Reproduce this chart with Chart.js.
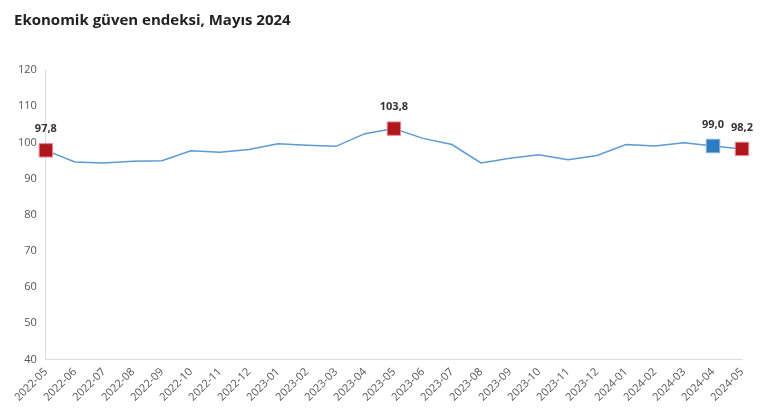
<!DOCTYPE html>
<html>
<head>
<meta charset="utf-8">
<script src="https://cdn.jsdelivr.net/npm/chart.js@4"></script>
<style>
  html, body { margin: 0; padding: 0; background: #fff; }
  #wrap { width: 770px; height: 418px; position: relative; }
  #baslik {
    position: absolute; left: 14px; top: 9px; margin: 0;
    font: bold 15px 'Open Sans', sans-serif; color: #222;
  }
</style>
</head>
<body>
<div id="wrap">
  <div id="baslik">Ekonomik güven endeksi, Mayıs 2024</div>
  <canvas id="guvenChart"></canvas>
</div>
<script>
// ==== veri ====
const aylar = [
  "2022-05", "2022-06", "2022-07", "2022-08", "2022-09", "2022-10", "2022-11", "2022-12",
  "2023-01", "2023-02", "2023-03", "2023-04", "2023-05", "2023-06", "2023-07", "2023-08",
  "2023-09", "2023-10", "2023-11", "2023-12", "2024-01", "2024-02", "2024-03", "2024-04", "2024-05"
];
const endeks = [
  97.8, 94.6, 94.3, 94.8, 94.9, 97.7, 97.3, 98.0,
  99.6, 99.2, 98.9, 102.4, 103.8, 101.1, 99.4, 94.3,
  95.6, 96.6, 95.2, 96.4, 99.4, 99.0, 99.9, 99.0, 98.2
];
const yTicks = [40, 50, 60, 70, 80, 90, 100, 110, 120];
// vurgulanan noktalar (index -> renk)
const vurgular = { 0: "#b0161e", 12: "#b0161e", 23: "#2f7bbf", 24: "#b0161e" };

const lineColor = "#5b9bd5";

const pointColors = endeks.map((v, i) => vurgular[i] || lineColor);
const pointRadius = endeks.map((v, i) => (vurgular[i] ? 9.5 : 0));

// etiket eklentisi
const etiketPlugin = {
  id: "etiketler",
  afterDatasetsDraw(chart) {
    const ctx = chart.ctx;
    const meta = chart.getDatasetMeta(0);
    ctx.save();
    ctx.font = "bold 11px 'Open Sans', sans-serif";
    ctx.fillStyle = "#333";
    ctx.textAlign = "center";
    ctx.textBaseline = "bottom";
    Object.keys(vurgular).forEach((k) => {
      const i = +k;
      const p = meta.data[i];
      const txt = endeks[i].toFixed(1).replace(".", ",");
      ctx.fillText(txt, p.x, p.y - 16);
    });
    ctx.restore();
  },
};

new Chart(document.getElementById("guvenChart"), {
  type: "line",
  data: {
    labels: aylar,
    datasets: [
      {
        data: endeks,
        borderColor: lineColor,
        borderWidth: 1.5,
        tension: 0,
        pointStyle: "rect",
        pointRadius: pointRadius,
        pointHoverRadius: pointRadius,
        pointBackgroundColor: pointColors,
        pointBorderColor: pointColors.map((c) => (c === "#b0161e" ? "#e88a8f" : "#7fb0dc")),
        pointBorderWidth: 1,
      },
    ],
  },
  options: {
    responsive: true,
    maintainAspectRatio: false,
    animation: false,
    layout: { padding: { left: 9, right: 28, top: 70, bottom: 8 } },
    plugins: {
      legend: { display: false },
      tooltip: { enabled: false },
      title: { display: false },
    },
    scales: {
      x: {
        offset: false,
        grid: { display: false, drawTicks: false },
        border: { display: true, color: "#dcdcdc" },
        ticks: {
          color: "#555",
          font: { family: "'Open Sans', sans-serif", size: 11 },
          maxRotation: 45,
          minRotation: 45,
          autoSkip: false,
          padding: 6,
        },
      },
      y: {
        min: 40,
        max: 120,
        afterBuildTicks(axis) {
          axis.ticks = yTicks.map((v) => ({ value: v }));
        },
        grid: { display: false, drawTicks: false },
        border: { display: true, color: "#dcdcdc" },
        ticks: {
          color: "#555",
          font: { family: "'Open Sans', sans-serif", size: 11 },
          padding: 9,
        },
      },
    },
  },
  plugins: [etiketPlugin],
});
</script>
</body>
</html>
